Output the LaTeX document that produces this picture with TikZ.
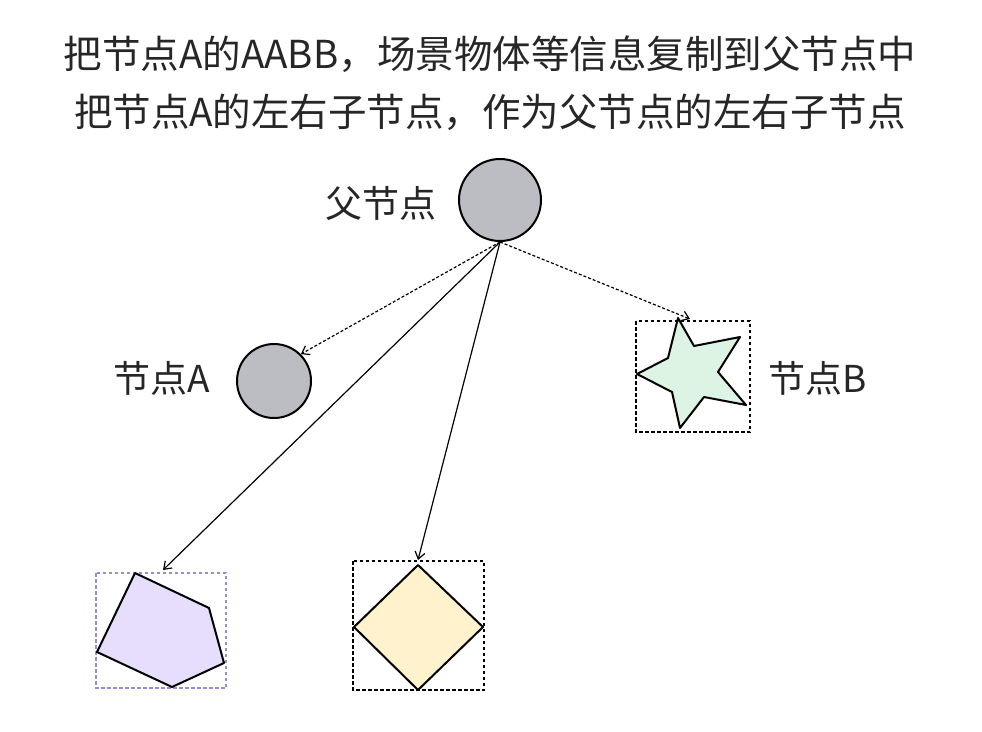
\documentclass[tikz,border=0pt]{standalone}
\usepackage{fontspec}
\newfontfamily\cjk{Noto Sans CJK SC}
\usetikzlibrary{arrows.meta}
\definecolor{grayf}{HTML}{BBBDC2}
\definecolor{greenf}{HTML}{DDF3E4}
\definecolor{purplef}{HTML}{E6DEFC}
\definecolor{purpled}{HTML}{9A8ADE}
\definecolor{yellowf}{HTML}{FFF2CC}
\tikzset{
  lbl/.style={font=\cjk\fontsize{37}{40}\selectfont, text=black!85},
  ttl/.style={font=\cjk\fontsize{38.5}{42}\selectfont, text=black!85},
  shp/.style={draw=black, line width=2pt, line join=round},
  bbox/.style={draw=black, line width=1.2pt, dash pattern=on 3.5pt off 2.5pt},
  link/.style={draw=black, line width=1.2pt, -{Straight Barb[length=7pt,width=10pt]}},
  dlink/.style={link, dash pattern=on 3pt off 2pt},
}
\begin{document}
\begin{tikzpicture}[x=1pt,y=-1pt]
\useasboundingbox (0,0) rectangle (982,731);
\node[ttl] (t1) at (490,54) {把节点A的AABB，场景物体等信息复制到父节点中};
\node[ttl] (t2) at (490,112) {把节点A的左右子节点，作为父节点的左右子节点};
\node[shp, circle, fill=grayf, minimum size=82pt, inner sep=0pt] (p) at (500,200) {};
\node[lbl] (pl) at (381,203) {父节点};
\node[shp, circle, fill=grayf, minimum size=74pt, inner sep=0pt] (a) at (274,381) {};
\node[lbl] (al) at (162,378) {节点A};
\node[lbl] (bl) at (818,378) {节点B};
\draw[bbox] (636,321) rectangle (750,432);
\draw[shp, fill=greenf] (678,318) -- (694,346) -- (740,337) -- (718,372) -- (746,405) -- (704,397) -- (680,428) -- (672,392) -- (637,374) -- (668,358) -- cycle;
\coordinate (bt) at (690,319);
\draw[draw=purpled, line width=1.2pt, dash pattern=on 3.5pt off 2.5pt] (96,573) rectangle (226,688);
\draw[shp, fill=purplef] (135,573) -- (209,608) -- (224,663) -- (172,687) -- (97,652) -- cycle;
\coordinate (pt) at (163,570);
\draw[bbox] (353,561) rectangle (484,690);
\draw[shp, fill=yellowf] (418,565) -- (483,627) -- (418,690) -- (354,627) -- cycle;
\coordinate (dt) at (418,560);
\coordinate (ps) at (500,242);
\draw[dlink] (ps) -- (a.north east);
\draw[dlink] (ps) -- (bt);
\draw[link] (ps) -- (pt);
\draw[link] (ps) -- (dt);
\end{tikzpicture}
\end{document}
